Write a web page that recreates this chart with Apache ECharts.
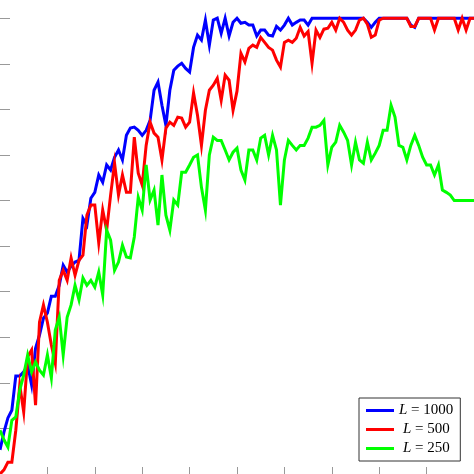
<!DOCTYPE html>
<html>
<head>
<meta charset="utf-8">
<script src="https://cdn.jsdelivr.net/npm/echarts@6/dist/echarts.min.js"></script>
<style>
  html, body { margin: 0; padding: 0; background: #fff; }
  #chart { width: 474px; height: 474px; }
</style>
</head>
<body>
<div id="chart"></div>
<script>
// sample step on the x axis (12 samples between ticks)
var xStep = 1 / 12;

var seriesNames = ['L = 1000', 'L = 500', 'L = 250'];
var seriesColors = ['#0000ff', '#ff0000', '#00ff00'];

var xTicks = [1, 2, 3, 4, 5, 6, 7, 8, 9];
var yTicks = [10, 20, 30, 40, 50, 60, 70, 80, 90, 100];

var blueValues = [
  5.3, 9.2, 12.3, 14.0, 21.5, 21.5, 22.4, 23.9, 19.5, 27.6,
  30.5, 34.2, 35.3, 39.0, 39.0, 41.4, 45.8, 44.3, 45.6, 46.5,
  46.9, 56.1, 54.6, 60.5, 61.8, 65.6, 64.0, 67.8, 66.7, 69.5,
  71.1, 68.9, 74.3, 75.9, 76.1, 75.4, 74.3, 75.4, 77.6, 84.2,
  86.0, 80.9, 76.5, 84.2, 88.6, 89.5, 90.1, 89.0, 88.2, 93.6,
  96.3, 95.2, 99.6, 94.1, 99.6, 100, 96.7, 100, 96.1, 99.1,
  100, 98.9, 99.1, 98.5, 98.5, 96.1, 97.4, 97.4, 96.3, 96.1,
  98.2, 97.4, 98.5, 100, 98.5, 99.1, 99.6, 99.6, 98.5, 100,
  100, 100, 100, 100, 100, 100, 100, 100, 100, 100,
  100, 100, 100, 99.1, 98.0, 99.1, 100, 100, 100, 100,
  100, 100, 100, 100, 98.5, 98.0, 100, 100, 100, 100,
  100, 100, 100, 100, 100, 100, 100, 100, 100, 100,
  100
];

var redValues = [
  0, 0.9, 2.6, 2.6, 9.6, 19.5, 13.6, 25.7, 27.2, 15.1,
  33.3, 37.1, 33.3, 28.3, 24.3, 42.5, 44.7, 42.5, 47.4, 43.6,
  46.9, 48.0, 56.8, 59.0, 59.0, 50.7, 57.9, 53.5, 61.2, 68.2,
  61.2, 65.6, 61.8, 61.8, 73.9, 66.0, 63.4, 72.1, 77.2, 74.8,
  73.9, 68.9, 75.9, 77.2, 76.5, 78.3, 78.1, 76.1, 77.2, 83.6,
  78.7, 72.1, 79.8, 84.2, 85.3, 86.8, 82.0, 87.5, 86.4, 79.8,
  84.0, 92.3, 90.4, 93.4, 94.1, 93.6, 95.8, 94.7, 93.6, 93.0,
  90.8, 89.3, 94.7, 95.2, 94.7, 95.6, 98.0, 96.1, 97.1, 90.1,
  97.4, 95.8, 97.6, 97.8, 99.1, 97.4, 100, 99.1, 97.4, 96.3,
  97.4, 99.6, 100, 98.7, 95.8, 96.3, 99.6, 100, 100, 100,
  100, 100, 100, 100, 98.2, 98.2, 100, 100, 100, 100,
  97.4, 100, 100, 100, 100, 100, 97.4, 100, 97.4, 100,
  100
];

var greenValues = [
  9.6, 7.5, 5.9, 11.8, 12.5, 18.4, 21.7, 26.1, 22.4, 24.6,
  22.8, 21.7, 26.1, 21.1, 31.6, 34.4, 26.1, 34.4, 37.1, 41.4,
  38.2, 43.0, 41.4, 42.5, 41.0, 44.3, 39.3, 53.5, 51.3, 44.7,
  46.5, 50.2, 47.6, 47.4, 52.0, 60.7, 57.9, 67.8, 60.1, 62.3,
  54.6, 65.6, 56.8, 53.5, 60.1, 59.0, 66.2, 66.2, 67.8, 69.5,
  70.0, 62.9, 57.9, 70.0, 73.9, 73.2, 73.2, 71.1, 68.9, 70.6,
  71.5, 66.7, 64.5, 71.1, 71.1, 68.9, 73.7, 74.3, 70.0, 74.3,
  71.1, 59.0, 68.9, 73.2, 72.1, 71.1, 72.1, 72.1, 73.7, 76.1,
  76.1, 76.5, 77.6, 67.8, 71.7, 72.8, 76.5, 75.0, 73.2, 67.8,
  72.8, 68.9, 68.2, 72.8, 68.9, 70.4, 72.1, 75.4, 75.4, 80.9,
  78.3, 72.1, 71.7, 68.9, 72.1, 74.3, 72.1, 69.5, 67.8, 67.8,
  65.6, 67.8, 62.3, 61.8, 61.2, 60, 60, 60, 60, 60,
  60
];

function toPoints(values) {
  var pts = [];
  for (var i = 0; i < values.length; i++) {
    pts.push([i * xStep, values[i]]);
  }
  return pts;
}

var allValues = [blueValues, redValues, greenValues];

var tickStyle = { color: '#999', width: 1 };

function makeAxis(type, pos, ticks, min, max, len) {
  return {
    type: 'value',
    position: pos,
    min: min,
    max: max,
    axisLine: { show: false },
    axisLabel: { show: false },
    splitLine: { show: false },
    axisTick: { show: true, inside: true, length: len, lineStyle: tickStyle, customValues: ticks }
  };
}

var chart = echarts.init(document.getElementById('chart'));

var series = [];
for (var s = 0; s < seriesNames.length; s++) {
  series.push({
    name: seriesNames[s],
    type: 'line',
    data: toPoints(allValues[s]),
    showSymbol: false,
    symbol: 'none',
    color: seriesColors[s],
    lineStyle: { width: 3, color: seriesColors[s], join: 'miter' },
    z: 2 + s
  });
}

var option = {
  animation: false,
  backgroundColor: '#fff',
  grid: { left: -3, right: -1, top: 0, bottom: 0 },
  xAxis: [
    makeAxis('x', 'bottom', xTicks, 0, 10, 7),
    makeAxis('x', 'top', xTicks, 0, 10, 7)
  ],
  yAxis: [
    makeAxis('y', 'left', yTicks, 0, 104, 10),
    makeAxis('y', 'right', yTicks, 0, 104, 7)
  ],
  legend: {
    orient: 'vertical',
    left: 359,
    top: 398,
    padding: [5, 7, 5, 7],
    itemGap: 4,
    itemWidth: 28,
    itemHeight: 3,
    icon: 'rect',
    borderColor: '#333',
    borderWidth: 1,
    backgroundColor: '#fff',
    data: seriesNames,
    formatter: function(name) {
      var pad = name.length < 8 ? '{p|}' : '';
      return pad + '{i|L}{n|' + name.slice(1) + '}';
    },
    textStyle: {
      fontFamily: 'Liberation Serif',
      fontSize: 15,
      color: '#000',
      rich: {
        p: { width: 4 },
        i: { fontFamily: 'Liberation Serif', fontStyle: 'italic', fontSize: 15, color: '#000' },
        n: { fontFamily: 'Liberation Serif', fontSize: 15, color: '#000' }
      }
    }
  },
  series: series
};

chart.setOption(option);
</script>
</body>
</html>
